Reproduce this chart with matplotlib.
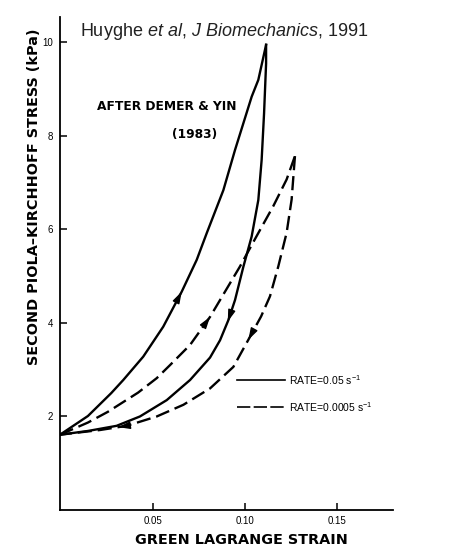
import numpy as np
import matplotlib
matplotlib.use("Agg")
import matplotlib.pyplot as plt

plt.rcParams['mathtext.fontset'] = 'custom'
plt.rcParams['mathtext.rm'] = 'Liberation Sans'
plt.rcParams['mathtext.it'] = 'Liberation Sans:italic'

# ---- data (strain, stress kPa) ----
fast_load_strain = [0.0, 0.0151, 0.0277, 0.0342, 0.0396, 0.0450, 0.0558, 0.0658, 0.0739,
                    0.0793, 0.0883, 0.0946, 0.1036, 0.1072, 0.1114]
fast_load_stress = [1.60, 2.00, 2.49, 2.77, 3.02, 3.27, 3.91, 4.66, 5.34,
                    5.91, 6.83, 7.69, 8.83, 9.19, 9.94]
fast_unload_strain = [0.1114, 0.1114, 0.1103, 0.1090, 0.1072, 0.1036, 0.0991, 0.0946, 0.0910,
                      0.0865, 0.0811, 0.0703, 0.0577, 0.0432, 0.0306, 0.0151, 0.0]
fast_unload_stress = [9.94, 9.54, 8.47, 7.48, 6.62, 5.84, 5.19, 4.48, 4.05,
                      3.62, 3.25, 2.77, 2.34, 1.99, 1.79, 1.68, 1.60]
slow_load_strain = [0.0, 0.0151, 0.0259, 0.0422, 0.0523, 0.0595, 0.0703, 0.0811, 0.0919,
                    0.0973, 0.1063, 0.1153, 0.1225, 0.1270]
slow_load_stress = [1.60, 1.86, 2.09, 2.50, 2.81, 3.09, 3.52, 4.12, 4.84,
                    5.20, 5.85, 6.49, 7.06, 7.56]
slow_unload_strain = [0.1270, 0.1252, 0.1225, 0.1180, 0.1135, 0.1087, 0.1018, 0.0937, 0.0811,
                      0.0667, 0.0523, 0.0361, 0.0216, 0.0]
slow_unload_stress = [7.56, 6.63, 5.92, 5.20, 4.56, 4.13, 3.63, 3.05, 2.59,
                      2.24, 1.99, 1.79, 1.70, 1.60]

x_ticks = [0.05, 0.10, 0.15]
x_tick_labels = ['0.05', '0.10', '0.15']
y_ticks = [2, 4, 6, 8, 10]
y_tick_labels = ['2', '4', '6', '8', '10']
legend_labels = ['RATE=0.05 s$^{-1}$', 'RATE=0.0005 s$^{-1}$']
# arrow stress levels on each branch
arrow_levels = {'fast_load': 4.66, 'slow_load': 4.12, 'fast_unload': 4.02,
                'slow_unload': 3.63}

W, H = 452, 552
fig = plt.figure(figsize=(W / 100, H / 100), dpi=100)
ax = fig.add_axes([60 / W, 42.5 / H, 333 / W, 492.5 / H])
ax.set_xlim(0, 0.18)
ax.set_ylim(0, 10.535)

lw = 1.7
dash = (6, 2.5)
ax.plot(fast_load_strain, fast_load_stress, color='black', lw=lw, solid_joinstyle='round')
ax.plot(fast_unload_strain, fast_unload_stress, color='black', lw=lw, solid_joinstyle='round')
ax.plot(slow_load_strain, slow_load_stress, color='black', lw=lw, dashes=dash)
ax.plot(slow_unload_strain, slow_unload_stress, color='black', lw=lw, dashes=dash)

head = '-|>,head_length=0.7,head_width=0.22'


def arrow_on(xs, ys, level, up=True):
    xs = np.asarray(xs); ys = np.asarray(ys)
    order = np.argsort(ys)
    x0 = np.interp(level, ys[order], xs[order])
    d = 0.12 if up else -0.12
    x1 = np.interp(level - d, ys[order], xs[order])
    ax.annotate('', xy=(x0, level), xytext=(x1, level - d),
                arrowprops=dict(arrowstyle=head, color='black', lw=1.0, shrinkA=0, shrinkB=0))


arrow_on(fast_load_strain, fast_load_stress, arrow_levels['fast_load'], True)
arrow_on(slow_load_strain, slow_load_stress, arrow_levels['slow_load'], True)
arrow_on(fast_unload_strain, fast_unload_stress, arrow_levels['fast_unload'], False)
arrow_on(slow_unload_strain, slow_unload_stress, arrow_levels['slow_unload'], False)
# leftward arrow on the low part of slow unloading branch
xs = np.asarray(slow_unload_strain[::-1]); ys = np.asarray(slow_unload_stress[::-1])
xa = 0.0315
ax.annotate('', xy=(xa, np.interp(xa, xs, ys)), xytext=(xa + 0.004, np.interp(xa + 0.004, xs, ys)),
            arrowprops=dict(arrowstyle=head, color='black', lw=1.0, shrinkA=0, shrinkB=0))

# legend drawn as lines + text
ax.plot([0.0955, 0.1216], [2.77, 2.77], color='black', lw=1.2)
ax.plot([0.0955, 0.1216], [2.19, 2.19], color='black', lw=1.2, dashes=(8, 2))
ax.text(0.1238, 2.77, legend_labels[0], fontsize=7.5, family='Liberation Sans',
        va='center', ha='left')
ax.text(0.1238, 2.19, legend_labels[1], fontsize=7.5, family='Liberation Sans',
        va='center', ha='left')

ax.text(0.020, 8.61, 'AFTER DEMER & YIN', fontsize=8.8, fontweight='bold',
        family='DejaVu Sans', va='center', ha='left')
ax.text(0.073, 8.03, '(1983)', fontsize=8.8, fontweight='bold',
        family='DejaVu Sans', va='center', ha='center')

for s in ['top', 'right']:
    ax.spines[s].set_visible(False)
for s in ['left', 'bottom']:
    ax.spines[s].set_linewidth(1.3)

ax.set_xticks(x_ticks)
ax.set_xticklabels(x_tick_labels, family='Liberation Sans', fontsize=7)
ax.set_yticks(y_ticks)
ax.set_yticklabels(y_tick_labels, family='Liberation Sans', fontsize=7)
ax.tick_params(direction='in', length=5, width=1.1, pad=5)

fig.text(241 / W, 1 - 540 / H, 'GREEN LAGRANGE STRAIN', fontsize=10.4, fontweight='bold',
         family='DejaVu Sans', ha='center', va='center')
fig.text(34 / W, 1 - 197 / H, 'SECOND PIOLA\u2013KIRCHHOFF STRESS (kPa)', fontsize=10.4,
         fontweight='bold', family='DejaVu Sans', ha='center', va='center', rotation=90)

fig.text(80 / W, 1 - 36 / H, r'Huyghe $\mathit{et\ al}$, $\mathit{J\ Biomechanics}$, 1991',
         fontsize=13, family='Liberation Sans', color='#222222', ha='left', va='baseline')

fig.savefig('out.png', dpi=100)
